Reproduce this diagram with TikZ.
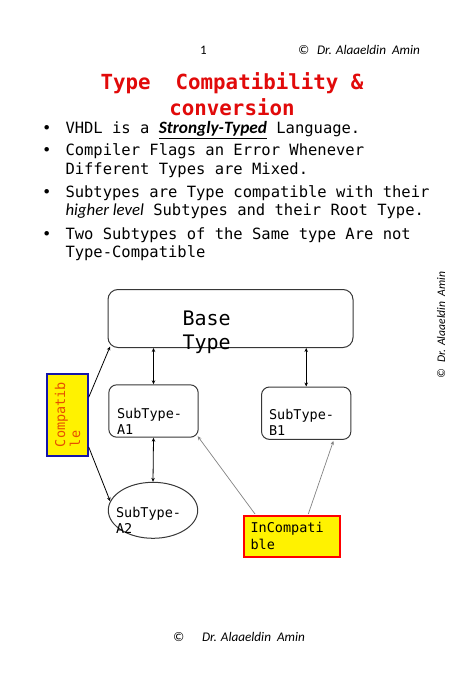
\documentclass[tikz,border=0pt]{standalone}
\usepackage{fontspec}
\setmainfont{Carlito}
\setmonofont{DejaVu Sans Mono}
\newfontfamily\calib{Carlito}
\usetikzlibrary{arrows.meta,calc,shapes.geometric}
\definecolor{titlered}{RGB}{225,10,10}
\definecolor{compatorange}{RGB}{230,80,0}
\definecolor{boxline}{RGB}{55,55,55}
\definecolor{compatblue}{RGB}{20,20,170}
\definecolor{thingray}{RGB}{130,130,130}
\begin{document}
\begin{tikzpicture}[x=1pt,y=-1pt,
  txt/.style={anchor=base west,inner sep=0pt,outer sep=0pt},
  body/.style={txt,font=\ttfamily\fontsize{15.5}{19}\selectfont},
  ttl/.style={anchor=base,inner sep=0pt,font=\ttfamily\bfseries\fontsize{20.8}{24}\selectfont,text=titlered},
  hdr/.style={txt,font=\calib\itshape\fontsize{13.2}{15}\selectfont},
  boxtxt/.style={txt,font=\ttfamily\fontsize{13.5}{16}\selectfont},
  rbox/.style={draw=boxline,line width=1pt,rounded corners=8pt,inner sep=0pt,minimum width=89.4pt,minimum height=52.4pt,anchor=north west},
  dbl/.style={black,line width=0.8pt,{Stealth[length=4pt,width=3.5pt]}-{Stealth[length=4pt,width=3.5pt]}},
  one/.style={black,line width=0.8pt,-{Stealth[length=4pt,width=3.5pt]}},
  oneg/.style={thingray,line width=0.7pt,-{Stealth[length=4pt,width=3.5pt]}}]
\useasboundingbox (0,0) rectangle (474,684);
% header
\node[hdr,font=\calib\fontsize{13}{15}\selectfont] (pg) at (200,55) {1};
\node[hdr] (hdrc) at (298,55) {©\hspace{8pt}Dr. Alaaeldin\ \ Amin};
% title
\node[ttl] (t1) at (232,90) {Type\ \ Compatibility \&};
\node[ttl] (t2) at (232,115.5) {conversion};
% bullets
\foreach \yy/\nm in {134/b1b,156/b2b,197.3/b3b,239.3/b4b}
  \node[body] (\nm) at (42,\yy) {•};
\node[body] (l1) at (65.5,134) {VHDL is a \underline{\calib\bfseries\itshape\fontsize{17.3}{19}\selectfont Strongly-Typed} Language.};
\node[body] (l2) at (65.5,156) {Compiler Flags an Error Whenever};
\node[body] (l3) at (65.5,175) {Different Types are Mixed.};
\node[body] (l4) at (65.5,197.3) {Subtypes are Type compatible with their};
\node[body] (l5) at (65.5,216) {{\calib\itshape\fontsize{16.8}{19}\selectfont higher level} Subtypes and their Root Type.};
\node[body] (l6) at (65.5,239.3) {Two Subtypes of the Same type Are not};
\node[body] (l7) at (65.5,257.7) {Type-Compatible};
% diagram boxes
\node[rbox,rounded corners=10pt,minimum width=245pt,minimum height=58pt] (base) at (107.5,289) {};
\node[rbox] (a1) at (108.3,384.3) {};
\node[rbox] (b1) at (261,386.5) {};
\node[draw=boxline,line width=1pt,ellipse,inner sep=0pt,minimum width=89.4pt,minimum height=56pt] (a2) at (153,510.3) {};
\node[draw=compatblue,line width=2pt,fill=yellow,inner sep=0pt,minimum width=41pt,minimum height=81.7pt,anchor=north west] (compat) at (45.7,373.3) {};
\node[draw=red,line width=2pt,fill=yellow,inner sep=0pt,minimum width=96pt,minimum height=41pt,anchor=north west] (incompat) at (243.3,515) {};
% texts
\node[txt,font=\ttfamily\fontsize{20}{24}\selectfont] (bt1) at (182.5,325) {Base};
\node[txt,font=\ttfamily\fontsize{20}{24}\selectfont] (bt2) at (182.5,349) {Type};
\node[boxtxt] (a1t1) at (117,418.5) {SubType-};
\node[boxtxt] (a1t2) at (117,434.5) {A1};
\node[boxtxt] (b1t1) at (269,419.5) {SubType-};
\node[boxtxt] (b1t2) at (269,435.5) {B1};
\node[boxtxt] (a2t1) at (116,517.5) {SubType-};
\node[boxtxt] (a2t2) at (116,533.5) {A2};
\node[boxtxt] (it1) at (250.5,532.5) {InCompati};
\node[boxtxt] (it2) at (250.5,549) {ble};
\node[boxtxt,rotate=90,text=compatorange] (ct1) at (65,447) {Compatib};
\node[boxtxt,rotate=90,text=compatorange] (ct2) at (80,447) {le};
% connectors
\draw[dbl] (a1.north) -- (a1.north |- base.south);
\draw[dbl] (b1.north) -- (b1.north |- base.south);
\draw[dbl] (a1.south) -- (a2.north);
\coordinate (cb) at ($(compat.north east)+(0,24)$);
\coordinate (bc) at ($(base.south west)+(2.6,-1.5)$);
\draw[one] (cb) -- (bc);
\coordinate (cs) at ($(compat.south east)+(0,-10)$);
\draw[one] (cs) -- (a2.168);
\coordinate (ia) at ($(incompat.north west)+(11.7,-1)$);
\coordinate (ai) at ($(a1.south east)+(-1,-1.5)$);
\draw[oneg] (ia) -- (ai);
\coordinate (ib) at ($(incompat.north west)+(65,-1)$);
\coordinate (bi) at ($(b1.south east)+(-18,1)$);
\draw[oneg] (ib) -- (bi);
% side and footer credits
\node[hdr,rotate=90,font=\calib\itshape\fontsize{11.6}{14}\selectfont] (side) at (445,378) {©\hspace{6pt}Dr. Alaaeldin\ \ Amin};
\node[hdr] (foot) at (173,641) {©\hspace{18pt}Dr. Alaaeldin\ \ Amin};
\end{tikzpicture}
\end{document}
